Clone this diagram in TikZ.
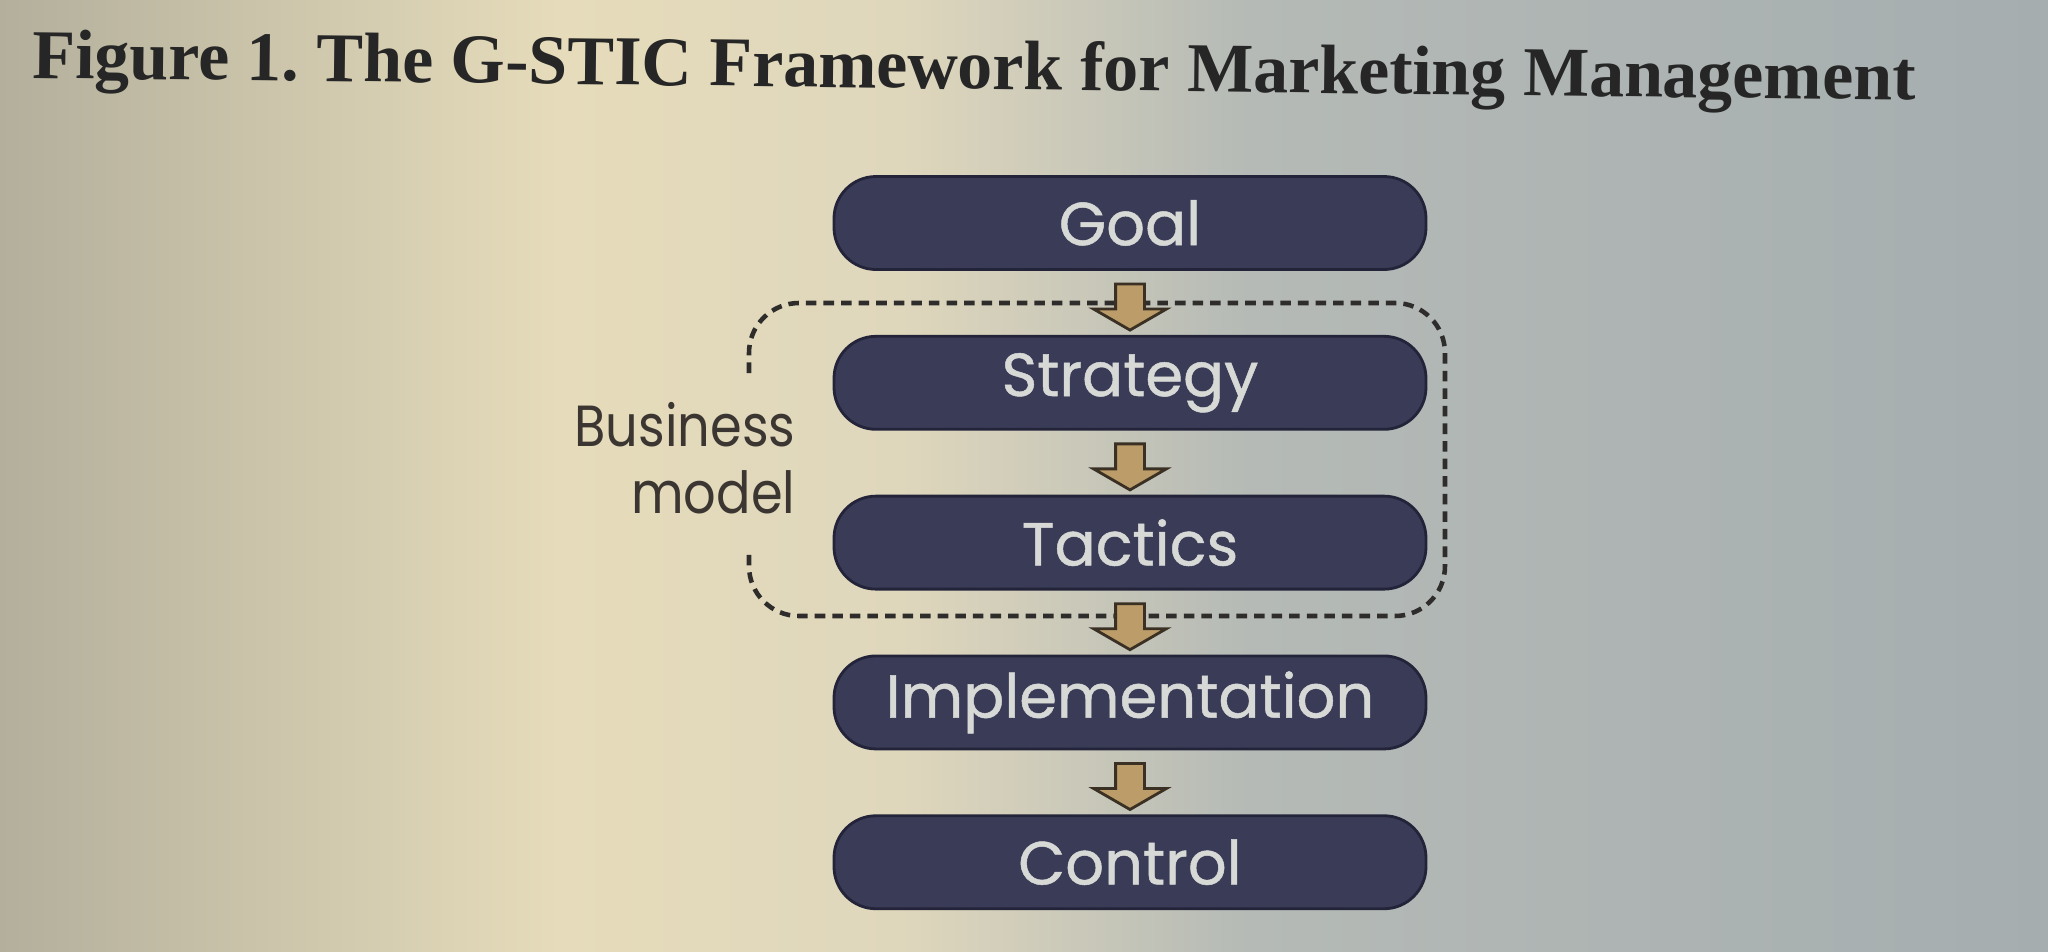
\documentclass[tikz,border=0pt]{standalone}
\usepackage{fontspec}
\setmainfont{Poppins}
\newfontfamily\titlefont{Liberation Serif}
\newfontfamily\stagefont{Poppins}[FakeBold=0.8]
\newfontfamily\bmfont{Poppins}[FakeStretch=0.88]
\usetikzlibrary{positioning,calc,shapes.arrows}

\definecolor{pageleft}{HTML}{B3AF9C}
\definecolor{pagebright}{HTML}{E6DCBB}
\definecolor{pagemid}{HTML}{DFD7BC}
\definecolor{pagegrey}{HTML}{B5BAB6}
\definecolor{pageright}{HTML}{A5ADAF}
\definecolor{stagefill}{HTML}{3A3B57}
\definecolor{stageline}{HTML}{23243A}
\definecolor{stagetext}{HTML}{D7D9D6}
\definecolor{arrowfill}{HTML}{BC9C68}
\definecolor{arrowline}{HTML}{3A3024}
\definecolor{inkgrey}{HTML}{2E2D2B}
\definecolor{labelink}{HTML}{3B3632}

\begin{document}
\frenchspacing
\begin{tikzpicture}[x=1cm, y=-1cm,
    node distance=0.64cm,
    stage/.style={draw=stageline, line width=0.8pt, fill=stagefill, text=stagetext,
        rounded corners=0.42cm, minimum width=5.92cm, minimum height=0.93cm, inner sep=0pt,
        font=\stagefont\fontsize{17.3}{20}\selectfont},
    downarrow/.style={single arrow, draw=arrowline, line width=0.8pt, fill=arrowfill,
        rotate=-90, minimum height=0.46cm, inner xsep=0pt, inner ysep=0.13cm,
        single arrow head extend=0.22cm, single arrow tip angle=120},
    bmframe/.style={draw=inkgrey, line width=1.3pt, dash pattern=on 3pt off 2pt,
        rounded corners=0.5cm},
    bmlabel/.style={text=labelink, align=right, inner sep=0pt,
        font=\bmfont\fontsize{16.5}{19}\selectfont},
    title/.style={text=black!85, inner sep=0pt,
        font=\titlefont\bfseries\fontsize{19.9}{24}\selectfont}]

\useasboundingbox (0,0) rectangle (20.48,9.52);
% page
\shade[left color=pageleft, right color=pagebright] (0,0) rectangle (5.6,9.52);
\shade[left color=pagebright, right color=pagemid] (5.6,0) rectangle (9.0,9.52);
\shade[left color=pagemid, right color=pagegrey] (9.0,0) rectangle (12.5,9.52);
\shade[left color=pagegrey, right color=pageright] (12.5,0) rectangle (20.48,9.52);

\node[title, anchor=base west, rotate=-0.67] (title) at (0.32,0.78)
    {Figure 1. The G-STIC Framework for Marketing Management};

\node[stage] (goal) at (11.30,2.23) {Goal};
\node[stage, below=of goal] (strat) {Strategy};
\node[stage, below=of strat] (tact) {Tactics};
\node[stage, below=of tact] (impl) {Implementation};
\node[stage, below=of impl] (ctrl) {Control};

% business model frame, open where the label sits
\draw[bmframe] (7.49,3.73) |- (14.45,3.03) |- (7.49,6.16) -- (7.49,5.52);
\node[bmlabel, anchor=east] (bm) at (7.96,4.58) {Business\\model};

\foreach \u/\l in {goal/strat, strat/tact, tact/impl, impl/ctrl}
    \node[downarrow] (arr-\u) at ($(\u.south)!.5!(\l.north)$) {};

\end{tikzpicture}
\end{document}
